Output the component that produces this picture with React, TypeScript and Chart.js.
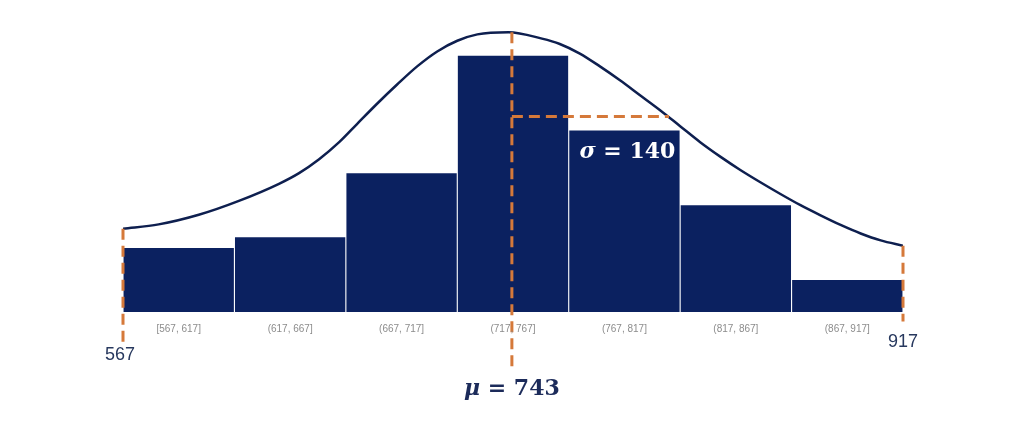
import { useEffect, useRef } from 'react';
import { Chart, registerables } from 'chart.js';

Chart.register(...registerables);

// histogram bins
const binEdges = [567, 617, 667, 717, 767, 817, 867, 917];
const binLabels = ['[567, 617]', '(617, 667]', '(667, 717]', '(717, 767]', '(767, 817]', '(817, 867]', '(867, 917]'];
const frequencies = [6, 7, 13, 24, 17, 10, 3];

// fitted curve
const curveX = [
  567, 583, 601, 619, 637, 646, 655, 664, 672, 681, 690, 699, 708, 717, 726, 740, 755, 763,
  772, 781, 790, 799, 808, 817, 826, 835, 844, 853, 862, 871, 880, 889, 898, 907, 917,
];
const curveY = [
  7.8, 8.2, 9.1, 10.4, 12.0, 13.0, 14.3, 15.9, 17.6, 19.5, 21.3, 23.0, 24.4, 25.4, 26.0, 26.2, 25.6, 25.1,
  24.2, 23.0, 21.7, 20.3, 18.9, 17.4, 15.9, 14.55, 13.3, 12.15, 11.05, 10.0, 9.05, 8.15, 7.35, 6.7, 6.2,
];

// guide lines
const meanLineX = 741.5;
const meanLineY = [26.2, -5.3];
const sdLineX = [741.5, 812];
const sdLineY = 18.3;
const leftEdgeY = [7.8, -2.9];
const rightEdgeY = [6.2, -0.9];

const meanText = ['μ', ' = 743'];
const sdText = ['σ', ' = 140'];
const rangeLabels = ['567', '917'];

const NAVY = '#0b2160';
const ORANGE = '#d5793a';

const binCenters = binLabels.map((_, i) => (binEdges[i] + binEdges[i + 1]) / 2);

const drawMixed = (
  ctx: CanvasRenderingContext2D,
  parts: string[],
  cx: number,
  y: number,
  size: number,
) => {
  const fonts = [
    `italic bold ${size}px "DejaVu Serif"`,
    `bold ${size}px "DejaVu Serif"`,
  ];
  ctx.textAlign = 'left';
  const widths = parts.map((p, i) => { ctx.font = fonts[i]; return ctx.measureText(p).width; });
  let x = cx - (widths[0] + widths[1]) / 2;
  parts.forEach((p, i) => { ctx.font = fonts[i]; ctx.fillText(p, x, y); x += widths[i]; });
};

const annotations = {
  id: 'annotations',
  afterDatasetsDraw(chart: Chart) {
    const { ctx } = chart;
    const xs = chart.scales.x;
    const ys = chart.scales.y;
    const base = ys.getPixelForValue(0);
    ctx.save();

    ctx.font = '10px "Liberation Sans"';
    ctx.fillStyle = '#8c8c8c';
    ctx.textAlign = 'center';
    ctx.textBaseline = 'alphabetic';
    binLabels.forEach((l, i) => ctx.fillText(l, xs.getPixelForValue(binCenters[i]), base + 20));

    ctx.font = '18px "Liberation Sans"';
    ctx.fillStyle = '#27385e';
    ctx.fillText(rangeLabels[0], xs.getPixelForValue(binEdges[0]) - 3, base + 48);
    ctx.fillText(rangeLabels[1], xs.getPixelForValue(binEdges[binEdges.length - 1]), base + 35);

    ctx.fillStyle = '#1c2b5a';
    drawMixed(ctx, meanText, xs.getPixelForValue(meanLineX), base + 83, 22);

    ctx.fillStyle = '#ffffff';
    drawMixed(ctx, sdText, xs.getPixelForValue(binCenters[4]) + 3, ys.getPixelForValue(sdLineY) + 41, 22);

    ctx.restore();
  },
};

export default function App() {
  const canvasRef = useRef<HTMLCanvasElement>(null);
  const chartRef = useRef<Chart | null>(null);

  useEffect(() => {
    if (!canvasRef.current) return;
    if (chartRef.current) { chartRef.current.destroy(); chartRef.current = null; }

    const dashed = {
      type: 'line' as const,
      borderColor: ORANGE,
      borderWidth: 3,
      borderDash: [11, 6],
      pointRadius: 0,
      fill: false,
      clip: false,
      order: 1,
    };

    chartRef.current = new Chart(canvasRef.current, {
      type: 'bar',
      data: {
        datasets: [
          {
            type: 'bar',
            data: binCenters.map((c, i) => ({ x: c, y: frequencies[i] })),
            backgroundColor: NAVY,
            borderWidth: 0,
            barPercentage: 0.99,
            categoryPercentage: 1,
            order: 3,
          },
          {
            type: 'line',
            data: curveX.map((x, i) => ({ x, y: curveY[i] })),
            borderColor: '#0e1f4f',
            borderWidth: 2.5,
            pointRadius: 0,
            cubicInterpolationMode: 'monotone',
            fill: false,
            order: 2,
          },
          { ...dashed, data: meanLineY.map(y => ({ x: meanLineX, y })) },
          { ...dashed, data: sdLineX.map(x => ({ x, y: sdLineY })) },
          { ...dashed, data: leftEdgeY.map(y => ({ x: binEdges[0], y })) },
          { ...dashed, data: rightEdgeY.map(y => ({ x: binEdges[binEdges.length - 1], y })) },
        ] as any,
      },
      options: {
        animation: false,
        responsive: true,
        maintainAspectRatio: false,
        layout: { padding: { left: 123, right: 121, top: 13, bottom: 51 } },
        plugins: {
          legend: { display: false },
          tooltip: { enabled: false },
        },
        scales: {
          x: {
            type: 'linear',
            offset: false,
            min: binEdges[0],
            max: binEdges[binEdges.length - 1],
            display: false,
            afterBuildTicks: axis => { axis.ticks = binEdges.map(value => ({ value })); },
          },
          y: {
            min: -6,
            max: 28,
            display: false,
          },
        },
      },
      plugins: [annotations],
    });

    return () => { chartRef.current?.destroy(); chartRef.current = null; };
  }, []);

  return (
    <div style={{ position: 'absolute', left: 0, top: 0, width: 1024, height: 427, background: '#ffffff' }}>
      <canvas ref={canvasRef} role="img" aria-label="Histogram with fitted normal curve" />
    </div>
  );
}
